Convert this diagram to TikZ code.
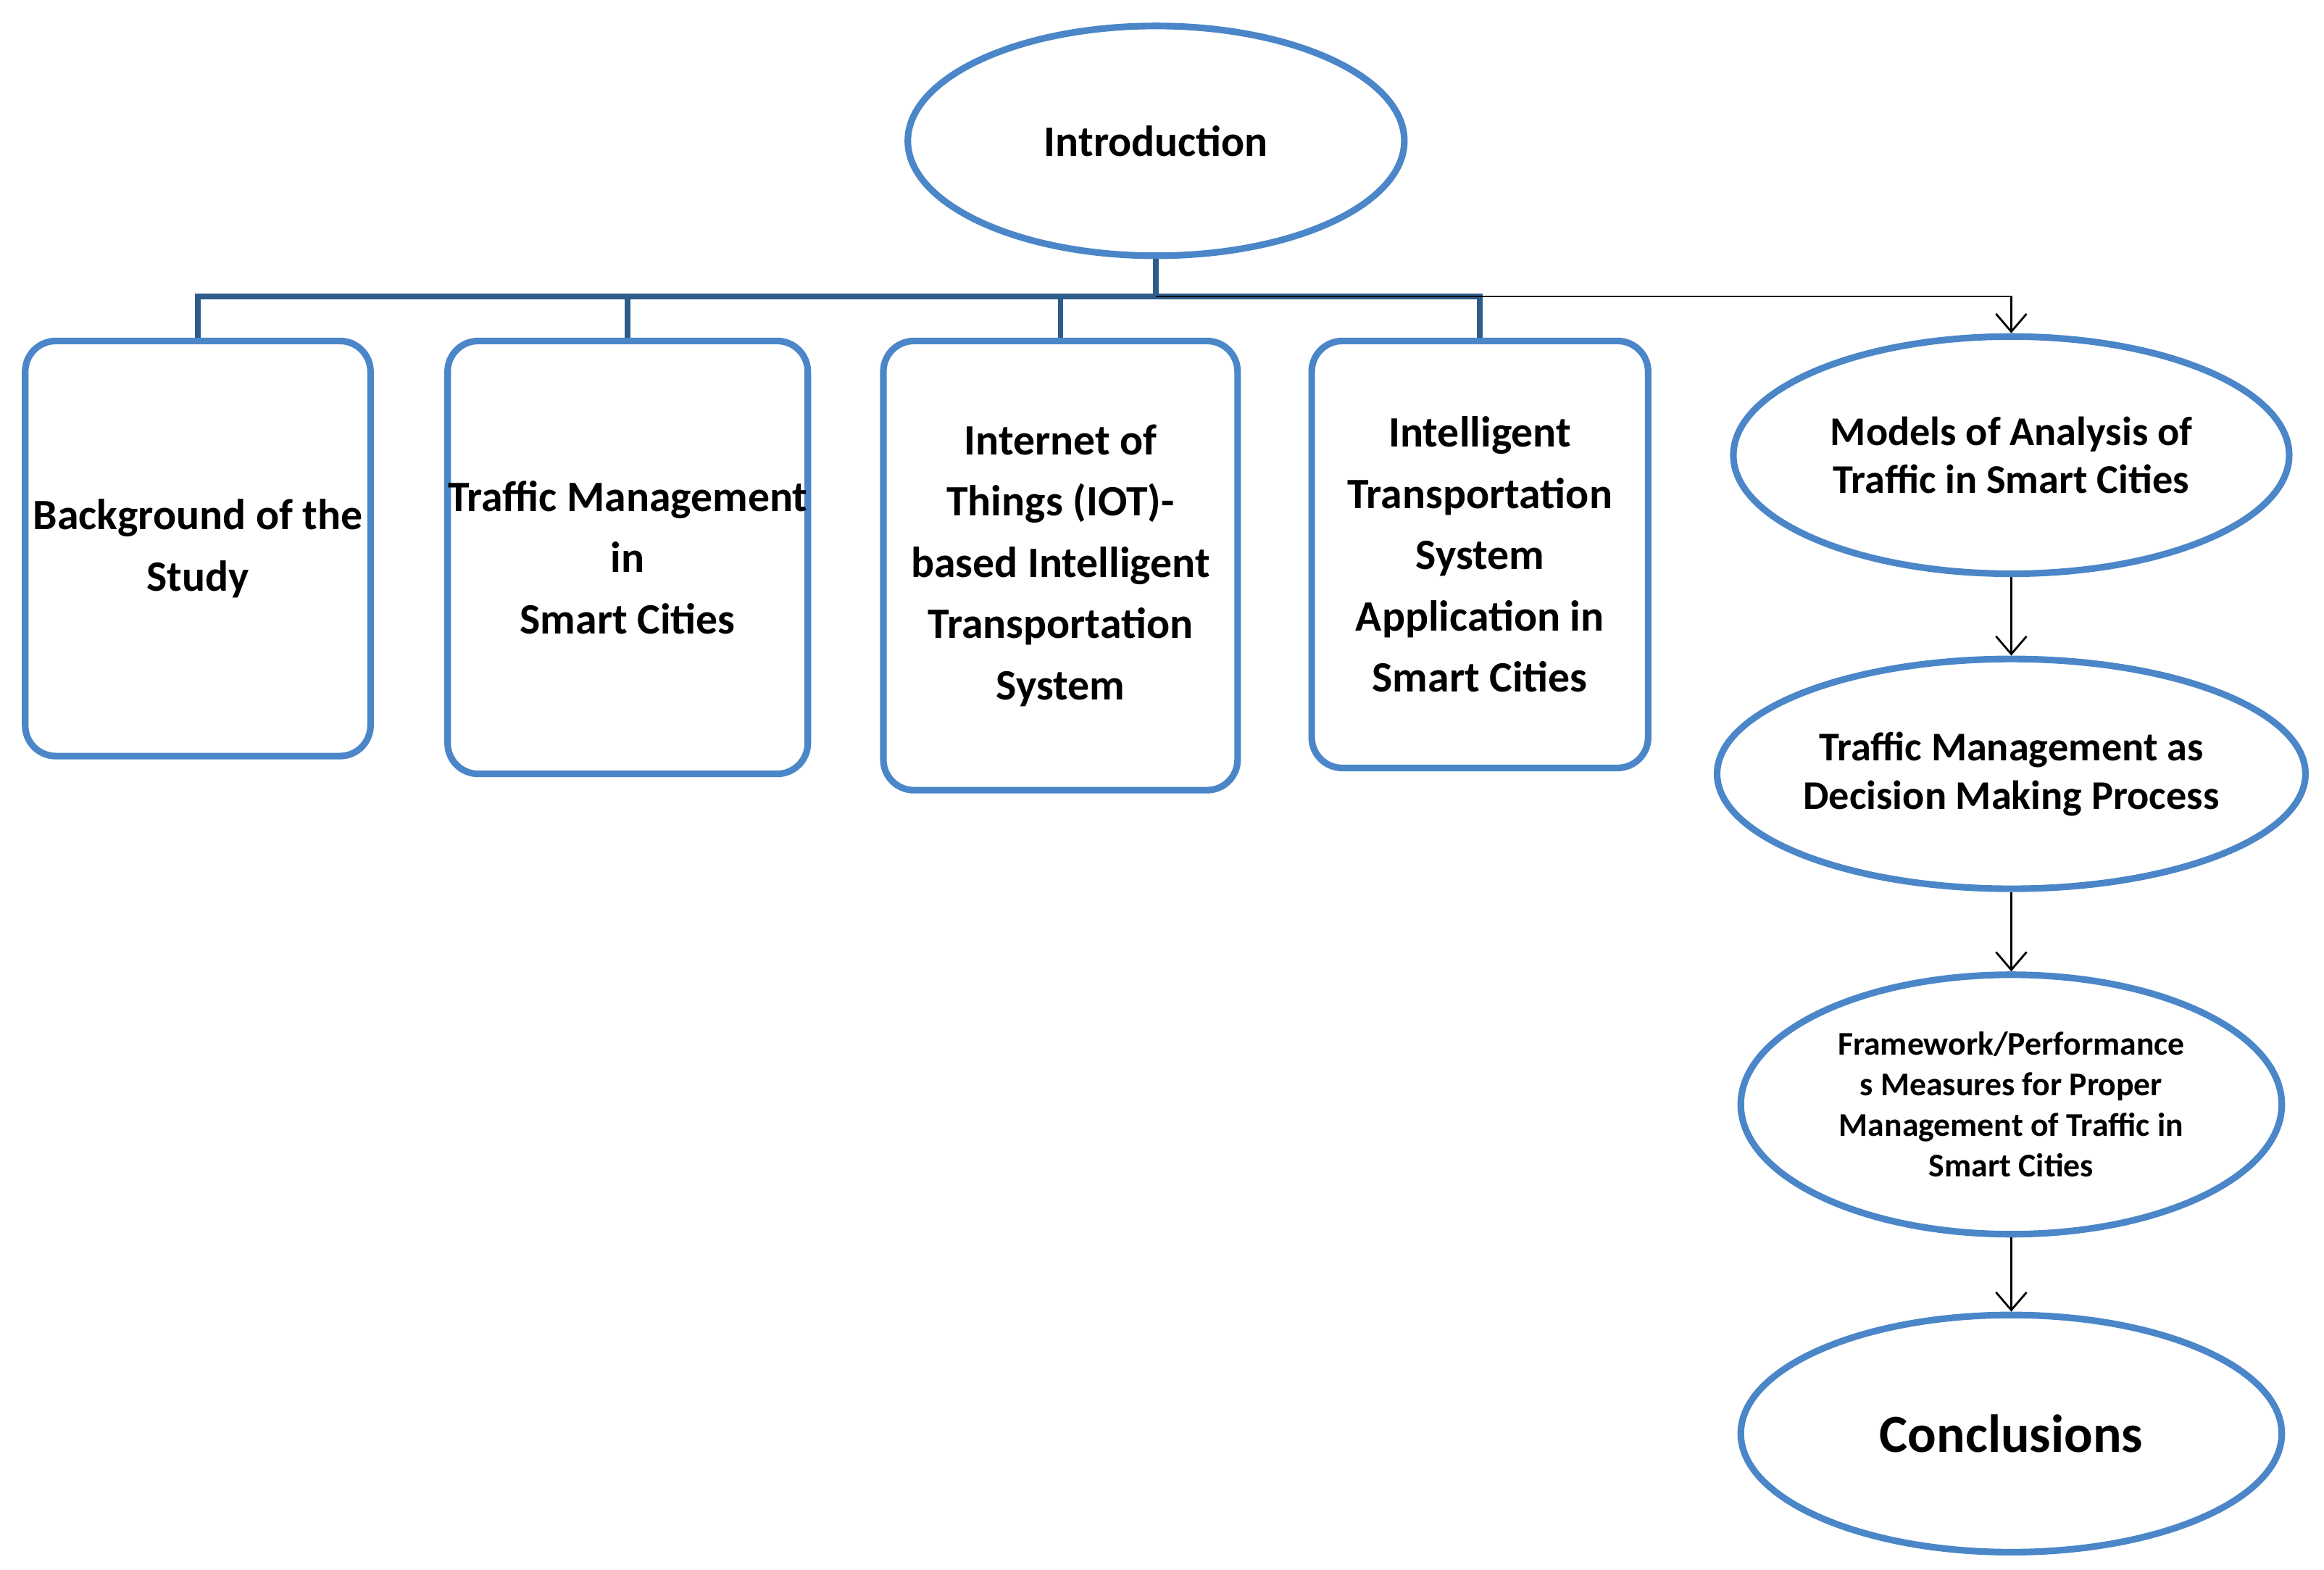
\documentclass[tikz,border=0pt]{standalone}
\usepackage{fontspec}
\setmainfont{Carlito}
\usetikzlibrary{shapes.geometric,arrows.meta}
\definecolor{bl}{HTML}{4A86C8}
\definecolor{db}{HTML}{2E5C8A}
\newcommand\uu{0.02045cm}
\begin{document}
\begin{tikzpicture}[x=0.02045cm,y=0.02045cm,
 ell/.style={ellipse,draw=bl,line width=2.6pt,inner sep=0pt,align=center,font=\bfseries\fontsize{16}{19}\selectfont},
 box/.style={rectangle,rounded corners=12pt,draw=bl,line width=2.6pt,inner sep=0pt,align=center,font=\bfseries\fontsize{17}{24}\selectfont},
 bus/.style={draw=db,line width=2.2pt},
 arr/.style={draw=black,line width=0.8pt,-{Straight Barb[length=7pt,width=12pt]}}]
\useasboundingbox (0,0) rectangle (1568,-1059);
\node[ell,minimum width=335*\uu,minimum height=155*\uu,font=\bfseries\fontsize{17}{20}\selectfont] (intro) at (780,-95) {Introduction};
\node[box,minimum width=233*\uu,minimum height=280*\uu] (b1) at (133.5,-370) {Background of the\\Study};
\node[box,minimum width=243*\uu,minimum height=292*\uu] (b2) at (423.5,-376) {Traffic Management\\in\\Smart Cities};
\node[box,minimum width=239*\uu,minimum height=303*\uu] (b3) at (715.5,-381.5) {Internet of\\Things (IOT)-\\based Intelligent\\Transportation\\System};
\node[box,minimum width=227*\uu,minimum height=288*\uu] (b4) at (998.5,-374) {Intelligent\\Transportation\\System\\Application in\\Smart Cities};
\node[ell,minimum width=375*\uu,minimum height=160*\uu] (e1) at (1357,-307) {Models of Analysis of\\Traffic in Smart Cities};
\node[ell,minimum width=390*\uu,minimum height=155*\uu] (e2) at (1357,-522) {Traffic Management as\\Decision Making Process};
\node[ell,minimum width=365*\uu,minimum height=175*\uu,font=\bfseries\fontsize{13}{16}\selectfont] (e3) at (1357,-745) {Framework/Performance\\s Measures for Proper\\Management of Traffic in\\Smart Cities};
\node[ell,minimum width=365*\uu,minimum height=160*\uu,font=\bfseries\fontsize{21}{24}\selectfont] (e4) at (1357,-967) {Conclusions};
\coordinate (j) at (780,-200);
\draw[bus] (intro.south) -- (j);
\draw[bus] (b1.north) -- (b1.north |- j) -- (b4.north |- j) -- (b4.north);
\draw[bus] (b2.north) -- (b2.north |- j);
\draw[bus] (b3.north) -- (b3.north |- j);
\draw[arr] (j) -- (e1.north |- j) -- (e1.north);
\draw[arr] (e1) -- (e2);
\draw[arr] (e2) -- (e3);
\draw[arr] (e3) -- (e4);
\end{tikzpicture}
\end{document}
